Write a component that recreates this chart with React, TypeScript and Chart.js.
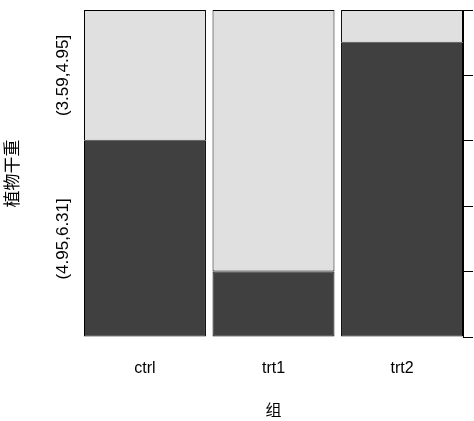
import React, { useEffect, useRef } from "react";
import { Chart, registerables } from "chart.js";

Chart.register(...registerables);

const groups = ["ctrl", "trt1", "trt2"];
const weightLevels = ["(4.95,6.31]", "(3.59,4.95]"];
const highShare = [0.6, 0.2, 0.9];
const lowShare = [0.4, 0.8, 0.1];
const yTicks = [0, 0.2, 0.4, 0.6, 0.8, 1];
const xTitle = "组";
const yTitle = "植物干重";

const FONT = "'Liberation Sans', 'Noto Sans CJK SC', sans-serif";

const leftLabels = {
  id: "leftLabels",
  afterDraw(chart: any) {
    const { ctx, chartArea, scales } = chart;
    const y = scales.y;
    const mids = [highShare[0] / 2, highShare[0] + lowShare[0] / 2];
    ctx.save();
    ctx.fillStyle = "#000";
    ctx.textAlign = "center";
    ctx.textBaseline = "middle";
    ctx.font = `17px ${FONT}`;
    weightLevels.forEach((lab, i) => {
      const py = y.getPixelForValue(mids[i]);
      ctx.save();
      ctx.translate(chartArea.left - 21, py);
      ctx.rotate(-Math.PI / 2);
      ctx.fillText(lab, 0, 0);
      ctx.restore();
    });
    const cy = (chartArea.top + chartArea.bottom) / 2;
    ctx.font = `17px ${FONT}`;
    ctx.translate(chartArea.left - 71, cy);
    ctx.rotate(-Math.PI / 2);
    ctx.fillText(yTitle, 0, 0);
    ctx.restore();
  },
};

export default function App() {
  const ref = useRef<HTMLCanvasElement>(null);
  useEffect(() => {
    if (!ref.current) return;
    const chart = new Chart(ref.current, {
      type: "bar",
      data: {
        datasets: [
          {
            label: weightLevels[0],
            data: groups.map((g, i) => ({ x: i, y: highShare[i] })),
            backgroundColor: "#404040",
            borderColor: "#000",
            borderWidth: 1,
            borderSkipped: false,
            barPercentage: 0.949,
            categoryPercentage: 1,
          },
          {
            label: weightLevels[1],
            data: groups.map((g, i) => ({ x: i, y: lowShare[i] })),
            backgroundColor: "#e0e0e0",
            borderColor: "#000",
            borderWidth: 1,
            borderSkipped: false,
            barPercentage: 0.949,
            categoryPercentage: 1,
          },
        ],
      },
      options: {
        animation: false,
        responsive: false,
        layout: { padding: { left: 84, right: 1, top: 10, bottom: 0 } },
        plugins: { legend: { display: false }, tooltip: { enabled: false } },
        scales: {
          x: {
            type: "linear",
            stacked: true,
            offset: false,
            min: -0.4745,
            max: groups.length - 1 + 0.4745,
            grid: { display: false, drawTicks: false },
            border: { display: false },
            afterBuildTicks: (s: any) => {
              s.ticks = groups.map((g, i) => ({ value: i }));
            },
            ticks: {
              autoSkip: false,
              maxRotation: 0,
              padding: 22.4,
              color: "#000",
              font: { family: FONT, size: 16 },
              callback: (v: any) => groups[Math.round(v)] ?? "",
            },
            title: {
              display: true,
              text: xTitle,
              color: "#000",
              font: { family: FONT, size: 16, lineHeight: 1 },
              padding: { top: 3, bottom: 1 },
            },
          },
          y: {
            type: "linear",
            position: "right",
            stacked: true,
            min: 0,
            max: 1,
            afterBuildTicks: (s: any) => {
              s.ticks = yTicks.map((v) => ({ value: v }));
            },
            ticks: { display: false },
            grid: {
              drawOnChartArea: false,
              drawTicks: true,
              tickLength: 10,
              tickColor: "#000",
              tickWidth: 1,
            },
            border: { display: true, color: "#000", width: 1 },
          },
        },
      },
      plugins: [leftLabels],
    });
    return () => chart.destroy();
  }, []);
  return (
    <div style={{ position: "fixed", left: 0, top: 0, width: 474, height: 421, background: "#fff" }}>
      <canvas ref={ref} width={474} height={421} />
    </div>
  );
}
